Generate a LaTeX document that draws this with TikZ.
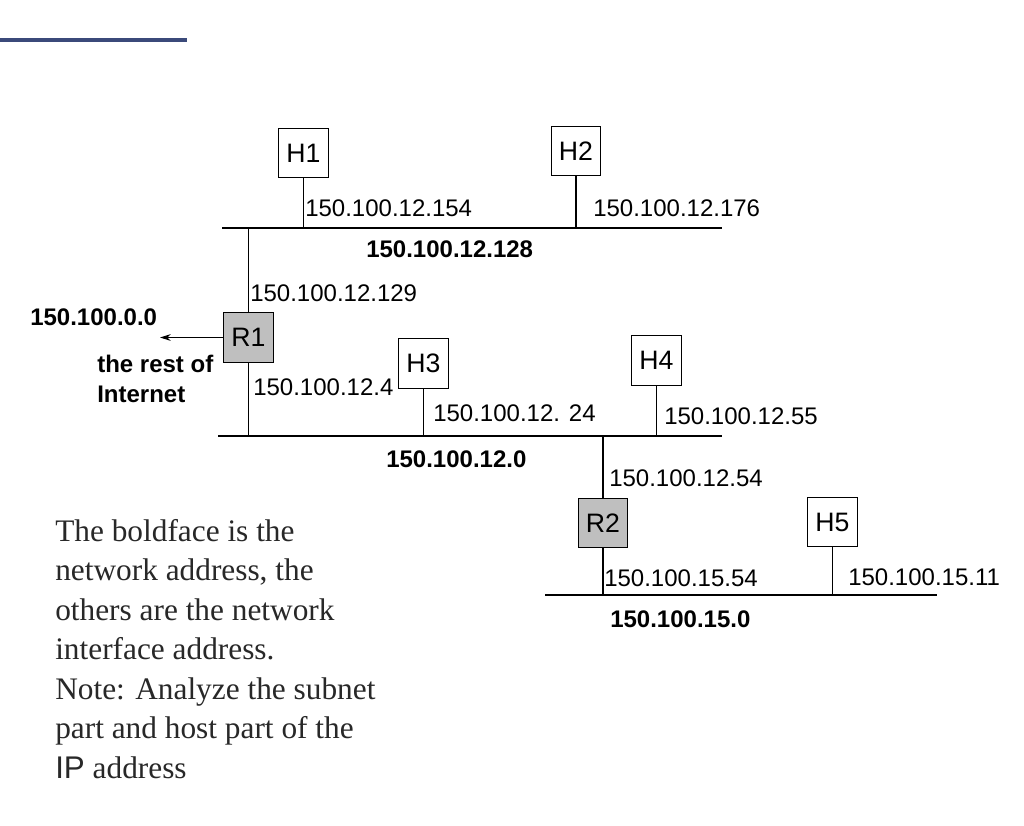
\documentclass[tikz,border=0pt]{standalone}
\usepackage{fontspec}
\usetikzlibrary{arrows.meta}
\setmainfont{Liberation Serif}
\newfontfamily\arialf{Liberation Sans}
\begin{document}
\begin{tikzpicture}[x=0.75pt,y=-0.75pt,
  lbl/.style={font=\arialf\fontsize{18}{20}\selectfont,inner sep=0pt,anchor=west},
  blbl/.style={font=\arialf\bfseries\fontsize{18}{20}\selectfont,inner sep=0pt,anchor=west},
  host/.style={draw,line width=0.9pt,minimum width=37pt,minimum height=37pt,inner sep=0pt,font=\arialf\fontsize{20}{22}\selectfont},
  router/.style={host,fill=gray!50},
  bus/.style={line width=2.2pt},
  wire/.style={line width=0.9pt}]
\useasboundingbox (0,0) rectangle (1024,825);
\fill[white] (0,0) rectangle (1024,825);
\draw[line width=3pt,color={rgb,255:red,59;green,74;blue,122}] (0,40) -- (187,40);
% buses
\coordinate (b1l) at (222,228); \coordinate (b1r) at (722,228);
\coordinate (b2l) at (218,436); \coordinate (b2r) at (722,436);
\coordinate (b3l) at (545,595); \coordinate (b3r) at (937,595);
\draw[bus] (b1l) -- (b1r);
\draw[bus] (b2l) -- (b2r);
\draw[bus] (b3l) -- (b3r);
% hosts
\node[host] (H1) at (303.5,153) {H1};
\node[host] (H2) at (576,151) {H2};
\node[router] (R1) at (248.5,337.5) {R1};
\node[host] (H3) at (423.5,363.5) {H3};
\node[host] (H4) at (656.5,360.5) {H4};
\node[router] (R2) at (603,523) {R2};
\node[host] (H5) at (832.5,522) {H5};
\draw[wire] (H1.south) -- (H1.south |- b1l);
\draw[wire] (H2.south) -- (H2.south |- b1l);
\draw[wire] (R1.north) -- (R1.north |- b1l);
\draw[wire] (R1.south) -- (R1.south |- b2l);
\draw[wire] (H3.south) -- (H3.south |- b2l);
\draw[wire] (H4.south) -- (H4.south |- b2l);
\draw[wire] (R2.north) -- (R2.north |- b2l);
\draw[wire] (R2.south) -- (R2.south |- b3l);
\draw[wire] (H5.south) -- (H5.south |- b3l);
\coordinate (inet) at (160,337.5);
\draw[wire,-{Stealth[length=8pt,width=5pt]}] (R1.west) -- (inet);
% labels
\node[lbl] (l1) at (305,208) {150.100.12.154};
\node[lbl] (l2) at (593,208) {150.100.12.176};
\node[blbl] (n1) at (366,249) {150.100.12.128};
\node[lbl] (l3) at (250,293) {150.100.12.129};
\node[blbl] (n0) at (30,317) {150.100.0.0};
\node[blbl] (r1) at (97,364) {the rest of};
\node[blbl] (r2) at (97,394) {Internet};
\node[lbl] (l4) at (253,387) {150.100.12.4};
\node[lbl] (l5) at (433,413) {150.100.12. 24};
\node[lbl] (l6) at (664,416) {150.100.12.55};
\node[blbl] (n2) at (386,459) {150.100.12.0};
\node[lbl] (l7) at (609,478) {150.100.12.54};
\node[lbl] (l8) at (604,578) {150.100.15.54};
\node[lbl] (l9) at (848,577) {150.100.15.11};
\node[blbl] (n3) at (610,619) {150.100.15.0};
\node[anchor=north west,inner sep=0pt,align=left,font=\fontsize{23.5}{29.6}\selectfont,color={rgb,255:red,40;green,40;blue,40}] (txt) at (55,519)
 {The boldface is the\\network address, the\\others are the network\\interface address.\\Note: Analyze the subnet\\part and host part of the\\{\arialf IP} address};
\end{tikzpicture}
\end{document}
